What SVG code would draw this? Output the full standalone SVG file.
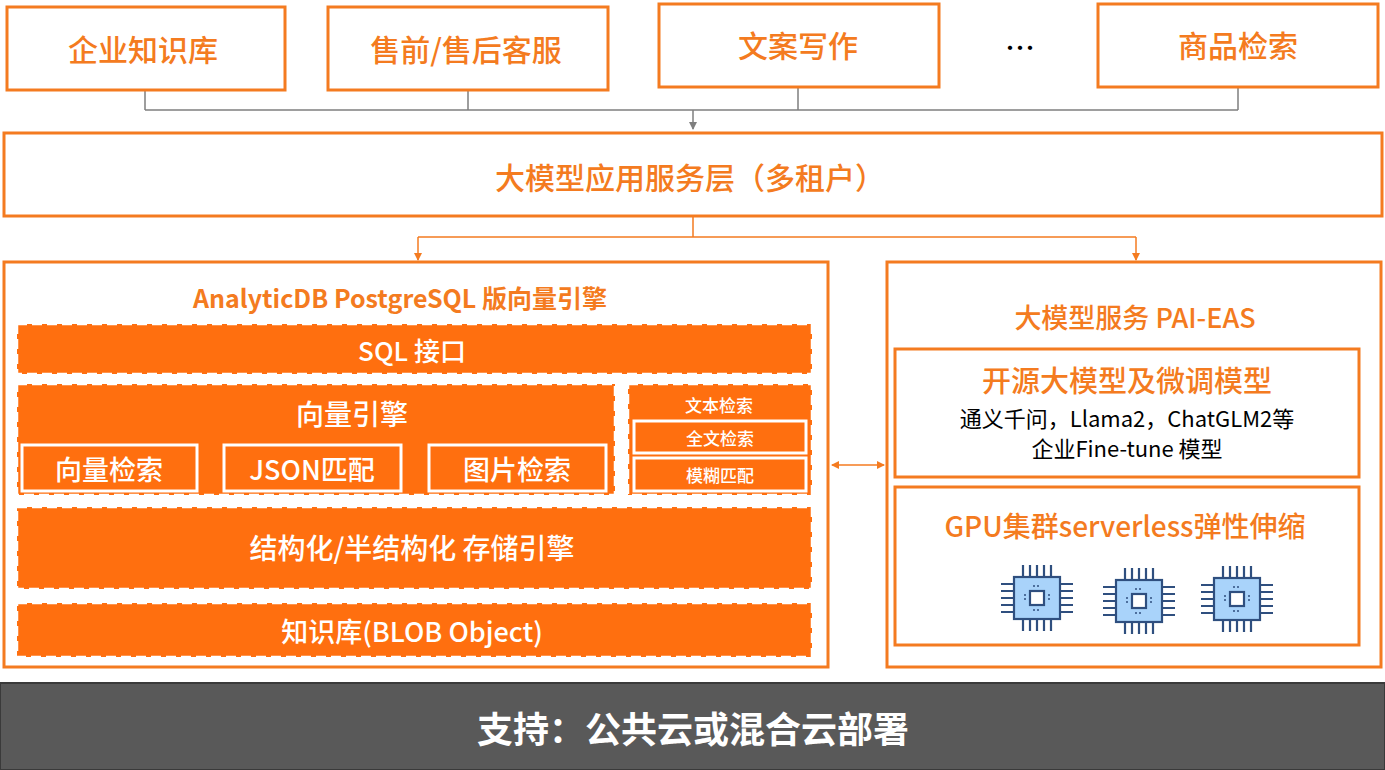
<svg xmlns="http://www.w3.org/2000/svg" xmlns:xlink="http://www.w3.org/1999/xlink" width="1385" height="770" viewBox="0 0 1385 770">
<style>
text{font-family:"Noto Sans CJK SC","Noto Sans",sans-serif;text-anchor:middle;dominant-baseline:central;font-weight:500}
.ob{fill:#fff;stroke:#F47B20;stroke-width:3}
.ot{fill:#F47B20;font-size:30px}
.dash{fill:#FF6F0F;stroke:#fff;stroke-width:2.5;stroke-dasharray:10 5}
.wb{fill:none;stroke:#fff;stroke-width:3}
.wt{fill:#fff}
.bk{fill:#000;font-size:22px;font-weight:400}
</style>
<defs>
<marker id="ag" markerWidth="8" markerHeight="8" refX="7" refY="4" orient="auto" markerUnits="userSpaceOnUse"><path d="M0,0L8,4L0,8z" fill="#7f7f7f"/></marker>
<marker id="ao" markerWidth="8" markerHeight="8" refX="7" refY="4" orient="auto-start-reverse" markerUnits="userSpaceOnUse"><path d="M0,0L8,4L0,8z" fill="#F47B20"/></marker>
<g id="chip" stroke="#2F4F7F" stroke-width="2.2">
<path d="M-14,-33v12M-7,-33v12M0,-33v12M7,-33v12M14,-33v12M-14,21v12M-7,21v12M0,21v12M7,21v12M14,21v12M-36,-14h12M-36,-7h12M-36,0h12M-36,7h12M-36,14h12M24,-14h12M24,-7h12M24,0h12M24,7h12M24,14h12"/>
<rect x="-23" y="-21" width="46" height="42" fill="#A9D3FA"/>
<rect x="-7" y="-7" width="14" height="14" fill="#fff"/>
<path d="M-4,-12h8M-4,12h8M-12,-4v8M12,-4v8" stroke-dasharray="2 2" stroke-width="1.5"/>
</g>
</defs>
<g id="connectors" fill="none">
<path d="M145,90V110M468,90V110M798,87V110M1238,87V110M145,110H1238" stroke="#7f7f7f" stroke-width="1.5"/>
<path d="M693,110V129" stroke="#7f7f7f" stroke-width="1.5" marker-end="url(#ag)"/>
<path d="M693,216V237M418,237H1136" stroke="#F47B20" stroke-width="1.5"/>
<path d="M418,237V260" stroke="#F47B20" stroke-width="1.5" marker-end="url(#ao)"/>
<path d="M1136,237V260" stroke="#F47B20" stroke-width="1.5" marker-end="url(#ao)"/>
<path d="M832,465H884" stroke="#F47B20" stroke-width="1.5" marker-start="url(#ao)" marker-end="url(#ao)"/>
</g>
<g id="n1"><rect class="ob" x="7" y="7" width="278" height="83"/><text class="ot" x="143" y="48">企业知识库</text></g>
<g id="n2"><rect class="ob" x="328" y="7" width="280" height="83"/><text class="ot" x="466" y="48">售前/售后客服</text></g>
<g id="n3"><rect class="ob" x="659" y="4" width="280" height="83"/><text class="ot" x="798" y="44">文案写作</text></g>
<g id="n4"><text x="1020" y="46" style="font-size:30px;fill:#000">…</text></g>
<g id="n5"><rect class="ob" x="1098" y="4" width="280" height="83"/><text class="ot" x="1238" y="44">商品检索</text></g>
<g id="n6"><rect class="ob" x="4" y="133" width="1378" height="83"/><text class="ot" x="690" y="176">大模型应用服务层（多租户）</text></g>
<g id="n7">
<rect class="ob" x="4" y="262" width="824" height="405"/>
<text x="400" y="297" style="font-size:25px;font-weight:bold;fill:#F47B20">AnalyticDB PostgreSQL 版向量引擎</text>
<rect class="dash" x="17" y="324" width="795" height="50"/><text class="wt" x="412" y="349" style="font-size:26px">SQL 接口</text>
<rect class="dash" x="17" y="384" width="598" height="111"/><text class="wt" x="352" y="413" style="font-size:28px">向量引擎</text>
<rect class="wb" x="22" y="445" width="175" height="46"/><text class="wt" x="109" y="468" style="font-size:27px">向量检索</text>
<rect class="wb" x="224" y="445" width="177" height="46"/><text class="wt" x="312" y="468" style="font-size:27px">JSON匹配</text>
<rect class="wb" x="429" y="445" width="177" height="46"/><text class="wt" x="517" y="468" style="font-size:27px">图片检索</text>
<rect class="dash" x="628" y="384" width="184" height="111"/><text class="wt" x="719" y="404" style="font-size:17px">文本检索</text>
<rect class="wb" x="634" y="421" width="172" height="32"/><text class="wt" x="720" y="437" style="font-size:17px">全文检索</text>
<rect class="wb" x="634" y="458" width="172" height="33"/><text class="wt" x="720" y="474" style="font-size:17px">模糊匹配</text>
<rect class="dash" x="17" y="507" width="795" height="82"/><text class="wt" x="412" y="547" style="font-size:28px">结构化/半结构化 存储引擎</text>
<rect class="dash" x="17" y="603" width="795" height="54"/><text class="wt" x="412" y="630" style="font-size:27px">知识库(BLOB Object)</text>
</g>
<g id="n8">
<rect class="ob" x="887" y="262" width="494" height="405"/>
<text class="ot" x="1135" y="316" style="font-size:27px">大模型服务 PAI-EAS</text>
<rect class="ob" x="895" y="349" width="464" height="128"/>
<text class="ot" x="1127" y="379" style="font-size:29px">开源大模型及微调模型</text>
<text class="bk" x="1127" y="417">通义千问，Llama2，ChatGLM2等</text>
<text class="bk" x="1127" y="447">企业Fine-tune 模型</text>
<rect class="ob" x="895" y="487" width="464" height="158"/>
<text class="ot" x="1125" y="525" style="font-size:28px">GPU集群serverless弹性伸缩</text>
<use xlink:href="#chip" x="1037" y="598"/>
<use xlink:href="#chip" x="1139" y="601"/>
<use xlink:href="#chip" x="1237" y="599"/>
</g>
<g id="n9"><rect x="0" y="683" width="1385" height="87" fill="#595959" stroke="#3a3a3a" stroke-width="2"/><text class="wt" x="693" y="727" style="font-size:36px;font-weight:bold">支持：公共云或混合云部署</text></g>
</svg>
